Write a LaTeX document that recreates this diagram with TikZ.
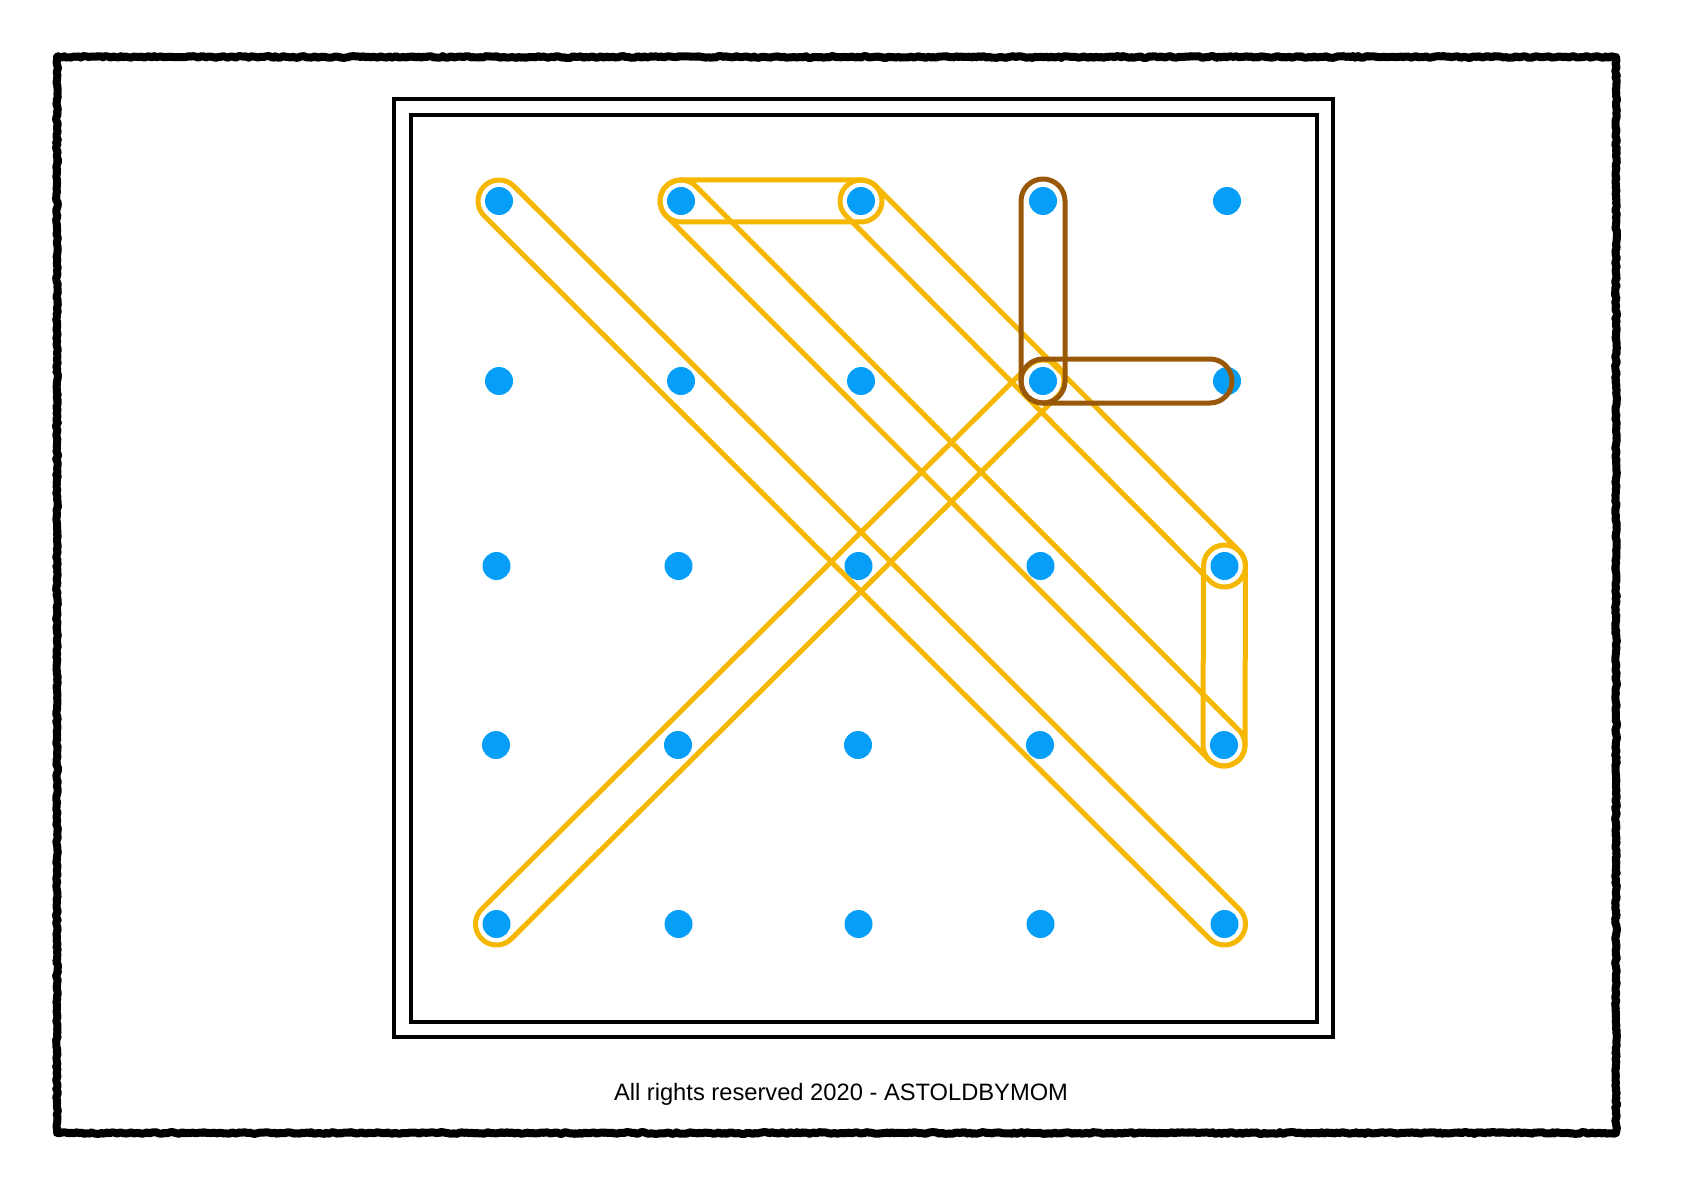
\documentclass[tikz,border=0pt]{standalone}
\usepackage{fontspec}
\setmainfont{Liberation Sans}
\usetikzlibrary{calc, decorations.pathmorphing}
\definecolor{pegblue}{RGB}{6,158,246}
\definecolor{bandyellow}{RGB}{246,183,0}
\definecolor{bandbrown}{RGB}{152,88,8}

\begin{document}
\begin{tikzpicture}[x=1pt, y=-1pt,
    peg/.style={circle, fill=pegblue, inner sep=0pt, minimum size=28pt},
    band/.style={draw=bandyellow, line width=5pt, line join=round},
    brownband/.style={draw=bandbrown, line width=5pt, line join=round},
    frame/.style={draw=black, line width=3.3pt},
    chalk/.style={decorate, line join=round, line cap=round}]
    \useasboundingbox (0,0) rectangle (1684,1190);
    \pgfmathsetseed{7}
    \draw[chalk, line width=8pt, decoration={random steps, segment length=2.5pt, amplitude=0.9pt}] (57,57) rectangle (1616,1133);
    \draw[chalk, line width=4pt, decoration={random steps, segment length=2pt, amplitude=1.8pt}] (57,57) rectangle (1616,1133);

    \draw[frame] (394,99) rectangle (1333,1037);
    \draw[frame] (411,115) rectangle (1317,1022);

    \foreach \y/\s [count=\r] in {201/0, 381/0, 566/-2.5, 745/-3, 924/-2.5}
        \foreach \x [count=\c] in {499, 681, 861, 1043, 1227}
            \node[peg] (p\c\r) at ({\x+(\s)}, \y) {};
    \coordinate (b52) at ($(p52)+(-17,0)$);

    \foreach \a/\b in {p11/p55, p21/p31, p21/p54, p31/p53, p53/p54, p15/p42}
        \draw[band] let \p1=($(\b)-(\a)$), \n1={atan2(\y1,\x1)+90}, \n2={atan2(\y1,\x1)-90} in
            ($(\a)+(\n1:21pt)$) -- ($(\b)+(\n1:21pt)$) arc[start angle=\n1, delta angle=-180, radius=21pt]
            -- ($(\a)+(\n2:21pt)$) arc[start angle=\n2, delta angle=-180, radius=21pt] -- cycle;

    \foreach \a/\b in {p41/p42, p42/b52}
        \draw[brownband] let \p1=($(\b)-(\a)$), \n1={atan2(\y1,\x1)+90}, \n2={atan2(\y1,\x1)-90} in
            ($(\a)+(\n1:22pt)$) -- ($(\b)+(\n1:22pt)$) arc[start angle=\n1, delta angle=-180, radius=22pt]
            -- ($(\a)+(\n2:22pt)$) arc[start angle=\n2, delta angle=-180, radius=22pt] -- cycle;

    \node[font=\fontsize{23.7}{28}\selectfont, anchor=base] (credit) at (841,1100) {All rights reserved 2020 - ASTOLDBYMOM};
\end{tikzpicture}
\end{document}
